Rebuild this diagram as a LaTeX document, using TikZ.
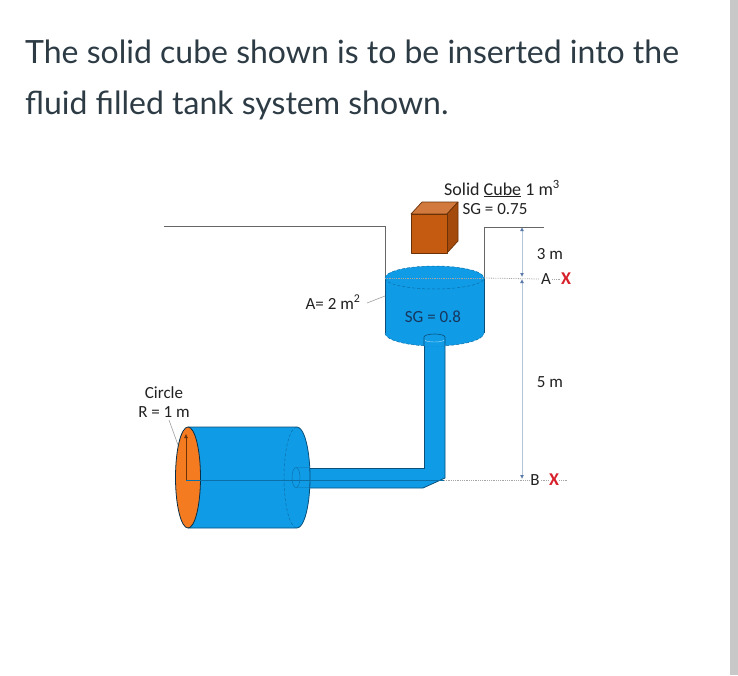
\documentclass[tikz,border=0pt]{standalone}
\usepackage{fontspec}
\setmainfont{Carlito}
\newfontfamily\headfont[Ligatures=Common]{Lato}
\usetikzlibrary{arrows.meta}
\definecolor{fluid}{HTML}{0F9BE6}
\definecolor{fluidedge}{HTML}{0B4F7A}
\definecolor{softedge}{HTML}{0D6FA8}
\definecolor{cubefront}{HTML}{C55A11}
\definecolor{cubetop}{HTML}{D27A3E}
\definecolor{cubeside}{HTML}{A44A0C}
\definecolor{cubeedge}{HTML}{6B3208}
\definecolor{discfill}{HTML}{F47B20}
\definecolor{dimline}{HTML}{B4C4DA}
\definecolor{dimtip}{HTML}{5878A8}
\definecolor{wall}{HTML}{666666}
\definecolor{headtext}{HTML}{2D3B45}
\definecolor{barcol}{HTML}{C8C8C8}
\definecolor{marker}{HTML}{D8202A}
\definecolor{sgtext}{HTML}{17375E}
\definecolor{labeltext}{HTML}{222222}
\tikzset{
  lbl/.style={font=\fontsize{17}{19}\selectfont,text=labeltext,inner sep=0pt},
  headline/.style={font=\headfont\fontsize{32}{36}\selectfont,text=headtext,inner sep=0pt,anchor=base west},
  wallline/.style={draw=wall,line width=0.8pt},
  fluidbody/.style={fill=fluid,draw=none},
  fluidline/.style={draw=fluidedge,line width=0.8pt},
  softdash/.style={draw=softedge,line width=0.5pt,densely dashed},
  thinline/.style={draw=softedge,line width=0.45pt},
  dimension/.style={draw=dimline,line width=0.9pt,{Latex[length=4pt,width=4pt,color=dimtip]}-{Latex[length=4pt,width=4pt,color=dimtip]}},
  level/.style={draw=gray!70,line width=0.8pt,densely dotted},
  leader/.style={draw=gray!75,line width=0.6pt},
  xmark/.style={font=\bfseries\fontsize{18}{20}\selectfont,text=marker,inner sep=0pt},
  cubeface/.style={draw=cubeedge,line width=0.7pt,line join=round}
}
\begin{document}
\begin{tikzpicture}[x=1pt,y=-1pt]
\useasboundingbox (0,0) rectangle (738,675);
\fill[white] (0,0) rectangle (738,675);
\fill[barcol] (730,0) rectangle (738,675);
% heading
\node[headline] (h1) at (25,63) {The solid cube shown is to be inserted into the};
\node[headline] (h2) at (25,114) {fluid filled tank system shown.};
% walls
\coordinate (wallLa) at (164,226);
\coordinate (wallLb) at (385,226);
\coordinate (wallLc) at (385,278);
\coordinate (wallRa) at (484,278);
\coordinate (wallRb) at (484,227);
\coordinate (wallRc) at (544,227);
\draw[wallline] (wallLa) -- (wallLb) -- (wallLc);
\draw[wallline] (wallRa) -- (wallRb) -- (wallRc);
% pipe
\fill[fluidbody] (424,334) -- (445,334) -- (445,478) -- (423,488) -- (300,488) -- (300,468) -- (424,468) -- cycle;
\draw[fluidline] (424,346) -- (424,468) -- (309,468);
\draw[fluidline] (445,346) -- (445,478) -- (423,488) -- (309,488);
% upper tank
\path[fluidbody] (385,278) arc[start angle=180,end angle=360,x radius=49.5,y radius=12] -- (484,333) arc[start angle=0,end angle=180,x radius=49.5,y radius=13] -- cycle;
\draw[fluidline,line width=0.6pt] (385,333) -- (385,278);
\draw[fluidline,line width=0.6pt] (484,278) -- (484,333);
\draw[softdash] (385,278) arc[start angle=180,end angle=360,x radius=49.5,y radius=12];
\draw[softdash] (385,278) arc[start angle=180,end angle=0,x radius=49.5,y radius=11];
\draw[level,line width=0.5pt] (385,278) -- (484,278);
\draw[softdash] (385,333) arc[start angle=180,end angle=0,x radius=49.5,y radius=13];
% pipe inlet
\fill[fluid] (424,346) rectangle (445,336);
\draw[fluidline,line width=0.6pt] (424,346) -- (424,337) arc[start angle=180,end angle=360,x radius=10.5,y radius=3] -- (445,346);
\draw[thinline,draw=white!60!fluid] (425,340) arc[start angle=180,end angle=0,x radius=9.5,y radius=2];
% lower cylinder
\path[fluidbody] (188,427) -- (297,427) arc[start angle=-90,end angle=90,x radius=13,y radius=50.5] -- (188,528) -- cycle;
\draw[fluidline] (188,427) -- (297,427) arc[start angle=-90,end angle=90,x radius=13,y radius=50.5] -- (188,528);
\draw[softdash] (297,427) arc[start angle=-90,end angle=-270,x radius=13,y radius=50.5];
\filldraw[fill=discfill,draw=fluidedge!60!black,line width=0.8pt] (188,477.5) ellipse[x radius=12.5,y radius=50.5];
% inner stub and axis
\draw[thinline] (310,467.5) -- (296,467.5) arc[start angle=-90,end angle=-270,x radius=4,y radius=10] -- (310,487.5);
\draw[thinline] (296,467.5) arc[start angle=-90,end angle=90,x radius=4,y radius=10];
\coordinate (axisA) at (186,480);
\coordinate (axisB) at (444,480);
\coordinate (radTip) at (186,434);
\draw[thinline] (axisA) -- (axisB);
\draw[draw=cubeedge,line width=0.5pt,-{Latex[length=4pt,width=4pt,color=cubeedge]}] (axisA) -- (radTip);
% cube
\filldraw[cubeface,fill=cubetop] (411,214) -- (422,202) -- (458,202) -- (447,214) -- cycle;
\filldraw[cubeface,fill=cubeside] (447,214) -- (458,202) -- (458,241) -- (447,253) -- cycle;
\filldraw[cubeface,fill=cubefront] (411,214) rectangle (447,253);
% dimension lines
\coordinate (dimTop) at (522,227);
\coordinate (dimA) at (522,277);
\coordinate (dimAb) at (522,279);
\coordinate (dimB) at (522,479);
\draw[dimension] (dimTop) -- (dimA);
\draw[dimension] (dimAb) -- (dimB);
% labels
\node[lbl,font=\fontsize{18}{20}\selectfont] (cubelabel) at (502,189) {Solid \underline{Cube} 1 m\textsuperscript{3}};
\node[lbl] (cubesg) at (495,209) {SG = 0.75};
\node[lbl] (threem) at (550,254) {3 m};
\node[lbl] (fivem) at (550,382) {5 m};
\node[lbl] (areaL) at (333,302) {A= 2 m\textsuperscript{2}};
\node[lbl,text=sgtext] (tanksg) at (433,317) {SG = 0.8};
\node[lbl] (circleL) at (164,393) {Circle};
\node[lbl] (radL) at (164,412) {R = 1 m};
\node[lbl,fill=white,inner sep=1pt] (Alabel) at (546,279) {A};
\node[xmark] (Ax) at (566,279) {X};
\node[lbl,fill=white,inner sep=1pt] (Blabel) at (535,480) {B};
\node[xmark] (Bx) at (554,480) {X};
% level lines
\coordinate (levAstart) at (484,278);
\coordinate (levBstart) at (444,480);
\coordinate (levBend) at (568,480);
\draw[level] (levAstart) -- (Alabel.west);
\draw[level] (Alabel.east) -- (Ax.west);
\draw[level] (levBstart) -- (Blabel.west);
\draw[level] (Blabel.east) -- (Bx.west);
\draw[level] (Bx.east) -- (levBend);
% leaders
\coordinate (areaEnd) at (385,296);
\coordinate (areaStart) at (367,303);
\coordinate (circEnd) at (178,445);
\coordinate (circStart) at (169,420);
\draw[leader] (areaStart) -- (areaEnd);
\draw[leader] (circStart) -- (circEnd);
\end{tikzpicture}
\end{document}
